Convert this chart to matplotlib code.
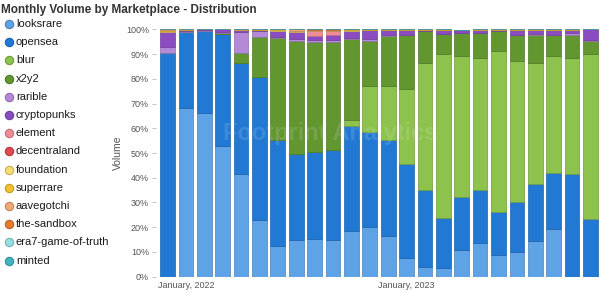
import matplotlib
matplotlib.use("Agg")
import matplotlib.pyplot as plt
import numpy as np
from matplotlib.lines import Line2D
import matplotlib.colors as mcolors

plt.rcParams['font.family'] = ['Liberation Sans', 'DejaVu Sans']

months = ["2021-12", "2022-01", "2022-02", "2022-03", "2022-04", "2022-05", "2022-06",
          "2022-07", "2022-08", "2022-09", "2022-10", "2022-11", "2022-12", "2023-01",
          "2023-02", "2023-03", "2023-04", "2023-05", "2023-06", "2023-07", "2023-08",
          "2023-09", "2023-10", "2023-11"]

looksrare = [0, 68.1, 66.0, 53.0, 41.6, 23.0, 12.4, 14.8, 15.2, 14.8, 18.5, 20.0,
             16.5, 7.4, 4.0, 3.4, 10.8, 13.8, 8.8, 10.1, 14.6, 19.2, 0, 0]
opensea = [90.3, 30.9, 33.3, 45.2, 44.9, 57.8, 42.9, 34.6, 35.1, 36.4, 42.4, 38.4,
           38.8, 38.2, 31.0, 20.5, 21.5, 21.2, 17.5, 20.0, 22.9, 22.7, 41.5, 23.3]
blur = [0, 0, 0, 0, 0, 0, 0, 0, 0, 0, 2.4, 18.8,
        21.9, 30.3, 51.5, 66.0, 56.9, 53.5, 64.9, 57.1, 49.0, 47.3, 47.0, 66.6]
x2y2 = [0, 0, 0.1, 0.2, 4.0, 16.2, 41.2, 45.8, 44.4, 43.8, 32.8, 18.2,
        20.1, 21.6, 12.8, 8.2, 9.4, 10.1, 8.2, 10.3, 11.2, 8.5, 9.0, 5.5]
rarible = [2.7, 0.4, 0.2, 0.6, 8.5, 2.2, 0.5, 0.8, 0.9, 0.5, 0.3, 0.7,
           0.3, 0, 0, 0, 0, 0, 0, 0, 0.4, 0, 1.0, 0.3]
cryptopunks = [6.0, 0.5, 0.4, 1.0, 0.9, 0.7, 2.4, 2.8, 1.8, 2.0, 3.0, 3.5,
               2.1, 2.2, 0.6, 1.7, 1.2, 1.3, 0.5, 2.4, 1.8, 2.2, 1.4, 4.3]
element = [0, 0, 0, 0, 0, 0, 0, 0.3, 2.0, 2.0, 0, 0,
           0, 0, 0, 0, 0, 0, 0, 0, 0, 0, 0, 0]
decentraland = [0.1, 0, 0, 0, 0, 0, 0, 0, 0, 0, 0, 0,
                0, 0, 0, 0, 0, 0, 0, 0, 0, 0, 0, 0]
foundation = [0.3, 0, 0, 0, 0, 0, 0.3, 0.2, 0, 0, 0.3, 0.2,
              0, 0, 0, 0, 0, 0, 0, 0, 0, 0, 0, 0]
superrare = [0.4, 0.1, 0, 0, 0.1, 0.1, 0.3, 0.2, 0, 0, 0.3, 0.2,
             0.3, 0.3, 0.1, 0.2, 0.1, 0.1, 0.1, 0.1, 0.1, 0.1, 0.1, 0]
aavegotchi = [0.2, 0, 0, 0, 0, 0, 0, 0.5, 0.3, 0.3, 0, 0,
              0, 0, 0, 0, 0, 0, 0, 0, 0, 0, 0, 0]
the_sandbox = [0, 0, 0, 0, 0, 0, 0, 0, 0.3, 0.2, 0, 0,
               0, 0, 0, 0, 0, 0, 0, 0, 0, 0, 0, 0]
era7 = [0] * 24
minted = [0] * 24

series_names = ["looksrare", "opensea", "blur", "x2y2", "rarible", "cryptopunks", "element",
                "decentraland", "foundation", "superrare", "aavegotchi", "the-sandbox",
                "era7-game-of-truth", "minted"]
series_vals = [looksrare, opensea, blur, x2y2, rarible, cryptopunks, element,
               decentraland, foundation, superrare, aavegotchi, the_sandbox, era7, minted]
colors = ["#5ea3e6", "#2179d4", "#8dc24c", "#62962f", "#b48ad8", "#8a4cc0", "#ee8d98",
          "#e0494f", "#f7dc6f", "#f2c230", "#f1a877", "#e8792f", "#95dfe0", "#3fb5c2"]

xtick_pos = [1, 13]
xtick_labels = ["January, 2022", "January, 2023"]

fig = plt.figure(figsize=(6.0, 2.93), dpi=100)
ax = fig.add_axes([0.26, 0.0556, 0.74, 0.8444])

x = np.arange(len(months))
bottom = np.zeros(len(months))
for name, vals, c in zip(series_names, series_vals, colors):
    v = np.array(vals, dtype=float)
    edge = tuple(np.array(mcolors.to_rgb(c)) * 0.8)
    ax.bar(x, v, bottom=bottom, width=0.8, color=c, edgecolor=edge, linewidth=0.5)
    bottom += v

ax.set_xlim(-0.625, 23.52)
ax.set_ylim(0, 100)
ax.set_yticks(np.arange(0, 101, 10))
ax.set_yticklabels([f"{t}%" for t in range(0, 101, 10)], fontsize=6.5, color="#555555")
ax.set_xticks(xtick_pos)
ax.set_xticklabels(xtick_labels, fontsize=6.5, color="#555555")
ax.tick_params(axis='y', length=3, width=0.5, color="#aaaaaa", pad=2)
ax.tick_params(axis='x', length=0, pad=3)
for s in ax.spines.values():
    s.set_visible(False)
ax.set_ylabel("Volume", fontsize=7.5, color="#555555", labelpad=2)

ax.text(0.15, 0.58, "Footprint Analytics", transform=ax.transAxes, fontsize=17,
        color="white", alpha=0.13, ha="left", va="center", fontweight="bold")

fig.text(0.002, 0.985, "Monthly Volume by Marketplace - Distribution", fontsize=8.5,
         fontweight="bold", color="#333333", ha="left", va="top")

y0 = 1 - 24 / 293
dy = 18.2 / 293
for i, (name, c) in enumerate(zip(series_names, colors)):
    yy = y0 - i * dy
    edge = tuple(np.array(mcolors.to_rgb(c)) * 0.8)
    fig.add_artist(Line2D([8.5 / 600], [yy], marker='o', markersize=6, markerfacecolor=c,
                          markeredgecolor=edge, markeredgewidth=0.8, linestyle='None',
                          transform=fig.transFigure))
    fig.text(16 / 600, yy, name, fontsize=8, color="#1a1a1a", ha="left", va="center")

fig.savefig("out.png", dpi=100)
